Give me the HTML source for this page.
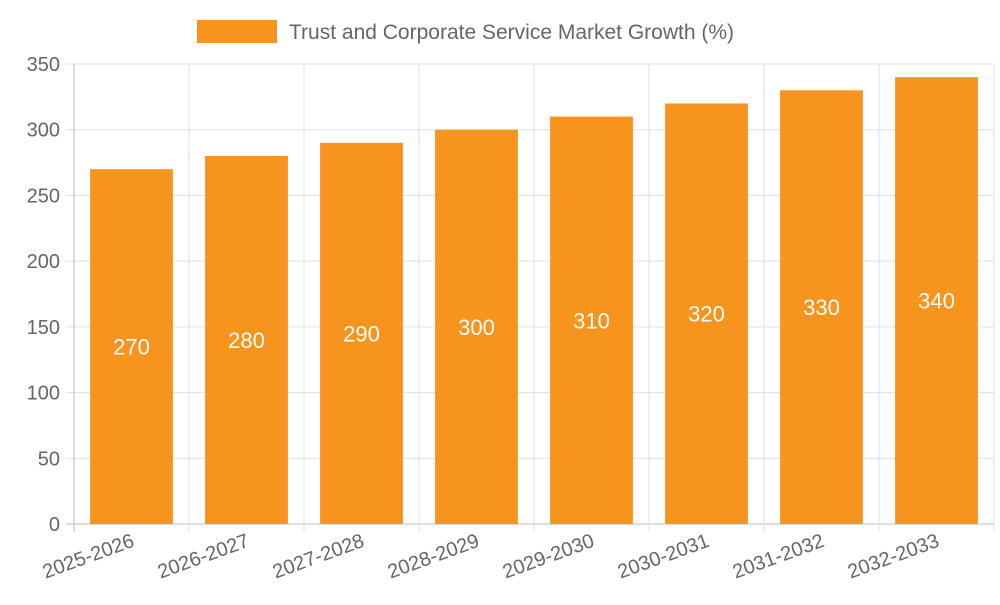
<!DOCTYPE html>
<html><head><meta charset="utf-8"><style>
body{margin:0;background:#fff;font-family:"Liberation Sans",sans-serif}
svg text{font-family:"Liberation Sans",sans-serif}
</style></head><body>
<svg id="chart" width="1000" height="600">
<g>
<rect x="197" y="20" width="80" height="23" fill="#f7941d"/>
<text x="289" y="39" font-size="21" fill="#666">Trust and Corporate Service Market Growth (%)</text>
</g>
<g id="grid"></g><g id="bars"></g><g id="axes"></g>
</svg>
<script>
const categories=["2025-2026","2026-2027","2027-2028","2028-2029","2029-2030","2030-2031","2031-2032","2032-2033"];
const values=[270,280,290,300,310,320,330,340];
const yTicks=[0,50,100,150,200,250,300,350];
const NS="http://www.w3.org/2000/svg";
const L=74,R=994,T=64,B=524,yMax=350;
const bw=(R-L)/categories.length;
const y=v=>B-(v/yMax)*(B-T);
const x=i=>L+bw*i;
function mk(p,t,a){const e=document.createElementNS(NS,t);for(const k in a)e.setAttribute(k,a[k]);p.appendChild(e);return e;}
const grid=document.getElementById('grid'),bars=document.getElementById('bars'),axes=document.getElementById('axes');
yTicks.forEach(v=>{
 const g=mk(grid,'line',{x1:L-8,x2:R,y1:y(v),y2:y(v),stroke:v===0?'#bbb':'#e0e0e0','stroke-width':1});
 
 
 const t=mk(axes,'text',{x:L-14,y:y(v)+7,'text-anchor':'end','font-size':20,fill:'#666'});
 t.textContent=v;
 
 
});
for(let i=0;i<=categories.length;i++){
 const g=mk(grid,'line',{x1:x(i),x2:x(i),y1:T,y2:B+8,stroke:i===0?'#bbb':'#e0e0e0','stroke-width':1});
 
 
}
categories.forEach((c,i)=>{
 const v=values[i],bwid=bw*0.72,bx=x(i)+(bw-bwid)/2;
 const r=mk(bars,'rect',{x:bx,y:y(v),width:bwid,height:B-y(v),fill:'#f7941d'});
 
 
 const t=mk(bars,'text',{x:bx+bwid/2,y:(y(v)+B)/2+8,'text-anchor':'middle','font-size':22,fill:'#fff'});
 t.textContent=v;
 
 
 const cx=x(i)+bw/2+4,cy=B+22;
 const lt=mk(axes,'text',{x:cx,y:cy,'text-anchor':'end','font-size':20,fill:'#666',transform:`rotate(-20 ${cx} ${cy})`});
 lt.textContent=c;
 
 
});
</script>
</body></html>
